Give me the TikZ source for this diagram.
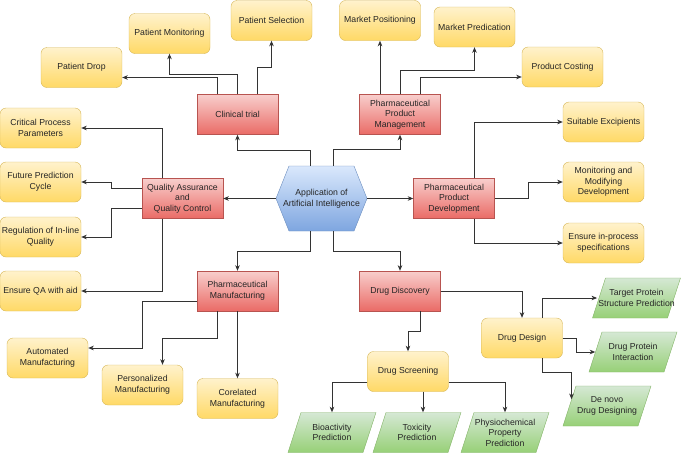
\documentclass[tikz,border=0pt]{standalone}
\usepackage{fontspec}
\setmainfont{Liberation Sans}
\usetikzlibrary{calc,arrows.meta}
\definecolor{yTop}{HTML}{FFF2CC}
\definecolor{yBot}{HTML}{FFD966}
\definecolor{yStroke}{HTML}{D6B656}
\definecolor{rTop}{HTML}{F8CECC}
\definecolor{rBot}{HTML}{EA6B66}
\definecolor{rStroke}{HTML}{B85450}
\definecolor{bTop}{HTML}{DAE8FC}
\definecolor{bBot}{HTML}{7EA6E0}
\definecolor{bStroke}{HTML}{6C8EBF}
\definecolor{gTop}{HTML}{D5E8D4}
\definecolor{gBot}{HTML}{97D077}
\definecolor{gStroke}{HTML}{82B366}
\definecolor{lineC}{HTML}{333333}
\newcommand\gpara[4]{%
  \path[draw=gStroke, top color=gTop, bottom color=gBot]
    (#2-44,#3+20) -- (#2-31,#3-20) -- (#2+44,#3-20) -- (#2+31,#3+20) -- cycle;
  \node[gtext] (#1) at (#2,#3) {#4};}
\begin{document}
\begin{tikzpicture}[x=1pt,y=-1pt,
  base/.style={font=\fontsize{8.7}{10.6}\selectfont, text=black!85, align=center, inner sep=1pt, minimum width=81pt, minimum height=40pt},
  ybox/.style={base, rounded corners=6pt, draw=yStroke, top color=yTop, bottom color=yBot},
  rbox/.style={base, draw=rStroke, top color=rTop, bottom color=rBot},
  gtext/.style={base, minimum width=75pt},
  arr/.style={draw=lineC, line width=0.9pt, -{Stealth[length=5.5pt,width=4.5pt,inset=1.5pt]}}]
\useasboundingbox (0,0) rectangle (685,453);

% centre hexagon
\path[draw=bStroke, top color=bTop, bottom color=bBot]
  (276,198.5) -- (289,166) -- (354,166) -- (367,198.5) -- (354,231) -- (289,231) -- cycle;
\node[font=\fontsize{8.7}{10.6}\selectfont, text=black!85, align=center, minimum width=91pt, minimum height=65pt, inner sep=0pt] (ai) at (321.5,198.5) {Application of\\Artificial Intelligence};

% red nodes
\node[rbox] (ct) at (237.5,114.5) {Clinical trial};
\node[rbox] (ppm) at (400,114.5) {Pharmaceutical\\Product\\Management};
\node[rbox] (qa) at (182.5,198.5) {Quality Assurance\\and\\Quality Control};
\node[rbox] (ppd) at (454,198.5) {Pharmaceutical\\Product\\Development};
\node[rbox] (pm) at (237.5,291) {Pharmaceutical\\Manufacturing};
\node[rbox] (dd) at (400,291) {Drug Discovery};

% yellow nodes
\node[ybox] (pdrop) at (81.5,67.5) {Patient Drop};
\node[ybox] (pmon) at (169.5,33.5) {Patient Monitoring};
\node[ybox] (psel) at (271.5,20.5) {Patient Selection};
\node[ybox] (cpp) at (40.5,128) {Critical Process\\Parameters};
\node[ybox] (fpc) at (40.5,182) {Future Prediction\\Cycle};
\node[ybox] (reg) at (40.5,237) {Regulation of In-line\\Quality};
\node[ybox] (eqa) at (40.5,291) {Ensure QA with aid};
\node[ybox] (auto) at (47.5,358) {Automated\\Manufacturing};
\node[ybox] (pers) at (142.5,385) {Personalized\\Manufacturing};
\node[ybox] (corr) at (237.5,398.5) {Corelated\\Manufacturing};
\node[ybox] (mpos) at (380,20.5) {Market Positioning};
\node[ybox] (mpred) at (474.5,27) {Market Predication};
\node[ybox] (pcost) at (562.5,67) {Product Costing};
\node[ybox] (se) at (603.5,122) {Suitable Excipients};
\node[ybox] (mmd) at (603.5,182) {Monitoring and\\Modifying\\Development};
\node[ybox] (eip) at (603.5,243) {Ensure in-process\\specifications};
\node[ybox] (ddes) at (522,338) {Drug Design};
\node[ybox] (ds) at (408,371.5) {Drug Screening};

% green parallelograms
\gpara{tp}{636.5}{298}{Target Protein\\Structure Prediction}
\gpara{dpi}{633}{352}{Drug Protein\\Interaction}
\gpara{dn}{607}{406}{De novo\\Drug Designing}
\gpara{bio}{332}{432.5}{Bioactivity\\Prediction}
\gpara{tox}{417}{432.5}{Toxicity\\Prediction}
\gpara{phys}{505}{432.5}{Physiochemical\\Property\\Prediction}

% connectors from centre
\draw[arr] ($(ai.north)+(-11.5,0)$) -- ++(0,-15) -| (ct.south);
\draw[arr] ($(ai.north)+(11.5,0)$) -- ++(0,-16) -| (ppm.south);
\draw[arr] (ai.west) -- (qa.east);
\draw[arr] (ai.east) -- (ppd.west);
\draw[arr] ($(ai.south)+(-11.5,0)$) -- ++(0,20) -| (pm.north);
\draw[arr] ($(ai.south)+(11.5,0)$) -- ++(0,20) -| (dd.north);

% clinical trial
\draw[arr] ($(ct.north)+(-20,0)$) |- ($(pdrop.east)+(0,10)$);
\draw[arr] (ct.north) -- ++(0,-20) -| (pmon.south);
\draw[arr] ($(ct.north)+(20,0)$) -- ++(0,-27) -| (psel.south);

% product management
\draw[arr] ($(ppm.north)+(-20,0)$) -- (mpos.south);
\draw[arr] (ppm.north) -- ++(0,-23.5) -| (mpred.south);
\draw[arr] ($(ppm.north)+(20,0)$) |- ($(pcost.west)+(0,10)$);

% quality
\draw[arr] ($(qa.north)+(-20,0)$) |- (cpp.east);
\draw[arr] ($(qa.west)+(0,-10)$) -- ++(-30,0) |- (fpc.east);
\draw[arr] ($(qa.west)+(0,10)$) -- ++(-30,0) |- (reg.east);
\draw[arr] ($(qa.south)+(-20,0)$) |- (eqa.east);

% product development
\draw[arr] ($(ppd.north)+(20,0)$) |- (se.west);
\draw[arr] (ppd.east) -- ++(34,0) |- (mmd.west);
\draw[arr] ($(ppd.south)+(20,0)$) |- (eip.west);

% manufacturing
\draw[arr] ($(pm.west)+(0,10)$) -- ++(-54.5,0) |- ($(auto.east)+(0,-10)$);
\draw[arr] ($(pm.south)+(-20,0)$) -- ++(0,27) -| ($(pers.north)+(20,0)$);
\draw[arr] (pm.south) -- (corr.north);

% drug discovery
\draw[arr] (dd.east) -| (ddes.north);
\draw[arr] ($(dd.south)+(20,0)$) -- ++(0,20) -| (ds.north);

% drug design
\draw[arr] ($(ddes.north)+(20,0)$) |- (tp.west);
\draw[arr] (ddes.east) -- ++(14,0) |- (dpi.west);
\draw[arr] ($(ddes.south)+(20,0)$) -- ++(0,14) -| ($(dn.west)+(2.2,-6.8)$);

% drug screening
\coordinate (dsb) at ($(ds.south)+(15,0)$);
\draw[arr] ($(ds.west)+(0,10.5)$) -| (bio.north);
\draw[arr] (dsb) -- (dsb |- tox.north);
\draw[arr] ($(ds.east)+(0,10.5)$) -| (phys.north);
\end{tikzpicture}
\end{document}
